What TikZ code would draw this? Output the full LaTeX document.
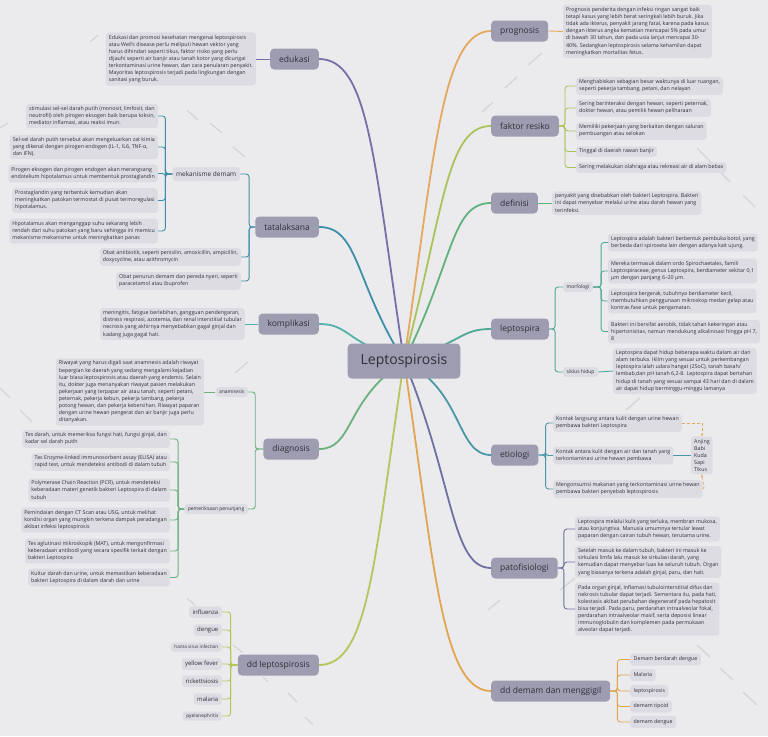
\documentclass[tikz,border=0pt]{standalone}
\usepackage{fontspec}
\setmainfont{Open Sans}
\usepackage{tikz}
\usetikzlibrary{positioning, backgrounds, arrows.meta}
\definecolor{bgfill}{HTML}{EBEBEE}
\definecolor{topicfill}{HTML}{9D9CB0}
\definecolor{notefill}{HTML}{DCDCE2}
\definecolor{ink}{HTML}{2F2F3A}
\definecolor{wmgray}{HTML}{D4D4D9}
\definecolor{cprog}{HTML}{E6A860}
\definecolor{crisk}{HTML}{ABC35C}
\definecolor{cdefn}{HTML}{62B27D}
\definecolor{cspira}{HTML}{4FA796}
\definecolor{cetio}{HTML}{4A98A6}
\definecolor{cpato}{HTML}{6D70A0}
\definecolor{cddfev}{HTML}{E3A552}
\definecolor{cedu}{HTML}{7A6DA8}
\definecolor{ctata}{HTML}{3F8EA9}
\definecolor{ckompl}{HTML}{52B1A8}
\definecolor{cdiag}{HTML}{6BB07D}
\definecolor{cddlep}{HTML}{B8C45C}
\tikzstyle{topic}=[fill=topicfill, text=ink, rounded corners=4pt, font=\fontsize{8.5}{10}\selectfont, inner xsep=9pt, minimum height=21pt]
\tikzstyle{note}=[fill=notefill, text=ink, rounded corners=3pt, align=left, font=\fontsize{5.3}{7.1}\selectfont, inner xsep=3pt, inner ysep=2.6pt]
\tikzstyle{tag}=[fill=notefill, text=ink, rounded corners=3pt, font=\fontsize{5}{6}\selectfont, inner xsep=3.5pt, inner ysep=1pt, minimum height=10pt]
\tikzstyle{item}=[tag, font=\fontsize{6}{7}\selectfont, minimum height=11.5pt]
\tikzstyle{trunk}=[line width=1.8pt, line cap=round]
\tikzstyle{twig}=[line width=0.9pt, rounded corners=3pt]
\tikzstyle{rel}=[densely dashed, line width=0.7pt, -{Stealth[length=3pt]}]
\tikzstyle{wm}=[line width=1.3pt, wmgray]
\tikzset{>=stealth}

\begin{document}
\begin{tikzpicture}[x=1pt, y=-1pt]
\useasboundingbox (0,0) rectangle (768,736);
% the central topic
\node[topic, font=\fontsize{14}{16}\selectfont, minimum height=35pt, inner xsep=13pt] (lep) at (404,361) {Leptospirosis};
% the right topics
\node[topic, anchor=west] (prog) at (491,31) {prognosis};
\node[topic, anchor=west] (risk) at (491,126) {faktor resiko};
\node[topic, anchor=west] (defn) at (491,203) {definisi};
\node[topic, anchor=west] (spira) at (491,329) {leptospira};
\node[topic, anchor=west] (etio) at (491,455) {etiologi};
\node[topic, anchor=west] (pato) at (491,568) {patofisiologi};
\node[topic, anchor=west] (ddfev) at (491,691) {dd demam dan menggigil};
% the left topics
\node[topic, anchor=east] (edu) at (319,59) {edukasi};
\node[topic, anchor=east] (tata) at (319,227) {tatalaksana};
\node[topic, anchor=east] (kompl) at (319,324) {komplikasi};
\node[topic, anchor=east] (diag) at (319,449) {diagnosis};
\node[topic, anchor=east] (ddlep) at (319,665) {dd leptospirosis};

% edukasi
\node[note, anchor=east] (edu1) at (256,59) {Edukasi dan promosi kesehatan mengenai leptospirosis\\atau Weil's disease perlu meliputi hewan vektor yang\\harus dihindari seperti tikus, faktor risiko yang perlu\\dijauhi seperti air banjir atau tanah kotor yang dicurigai\\terkontaminasi urine hewan, dan cara penularan penyakit.\\Mayoritas leptospirosis terjadi pada lingkungan dengan\\sanitasi yang buruk.};
% tatalaksana
\node[tag, anchor=east, font=\fontsize{6.5}{8}\selectfont, minimum height=14pt] (fever) at (240,174) {mekanisme demam};
\node[note, anchor=east] (tata2) at (241,257) {Obat antibiotik, seperti penisilin, amoxicillin, ampicillin,\\doxycycline, atau azithromycin};
\node[note, anchor=east] (tata3) at (241,281) {Obat penurun demam dan pereda nyeri, seperti\\paracetamol atau ibuprofen};
\node[note, anchor=east] (fever1) at (158,116) {stimulasi sel-sel darah putih (monosit, limfosit, dan\\neutrofil) oleh pirogen eksogen baik berupa toksin,\\mediator inflamasi, atau reaksi imun.};
\node[note, anchor=east] (fever2) at (158,147) {Sel-sel darah putih tersebut akan mengeluarkan zat kimia\\yang dikenal dengan pirogen endogen (IL-1, IL6, TNF-α,\\dan IFN).};
\node[note, anchor=east] (fever3) at (158,173.5) {Pirogen eksogen dan pirogen endogen akan merangsang\\endotelium hipotalamus untuk membentuk prostaglandin};
\node[note, anchor=east] (fever4) at (158,200.5) {Prostaglandin yang terbentuk kemudian akan\\meningkatkan patokan termostat di pusat termoregulasi\\hipotalamus.};
\node[note, anchor=east] (fever5) at (158,231) {Hipotalamus akan menganggap suhu sekarang lebih\\rendah dari suhu patokan yang baru sehingga ini memicu\\mekanisme mekanisme untuk meningkatkan panas};
% komplikasi
\node[note, anchor=east] (kompl1) at (245,324) {meningitis, fatigue berlebihan, gangguan pendengaran,\\distress respirasi, azotemia, dan renal interstitial tubular\\necrosis yang akhirnya menyebabkan gagal ginjal dan\\kadang juga gagal hati.};
% diagnosis
\node[tag, anchor=east] (anam) at (248,392) {anamnesis};
\node[tag, anchor=east] (penun) at (248,509) {pemeriksaan penunjang};
\node[note, anchor=east] (anam1) at (204,392) {Riwayat yang harus digali saat anamnesis adalah riwayat\\bepergian ke daerah yang sedang mengalami kejadian\\luar biasa leptospirosis atau daerah yang endemis. Selain\\itu, dokter juga menanyakan riwayat pasien melakukan\\pekerjaan yang terpapar air atau tanah, seperti petani,\\peternak, pekerja kebun, pekerja tambang, pekerja\\potong hewan, dan pekerja kebersihan. Riwayat paparan\\dengan urine hewan pengerat dan air banjir juga perlu\\ditanyakan.};
\node[note, anchor=east] (penun1) at (170,439) {Tes darah, untuk memeriksa fungsi hati, fungsi ginjal, dan\\kadar sel darah putih};
\node[note, anchor=east] (penun2) at (170,462) {Tes Enzyme-linked immunosorbent assay (ELISA) atau\\rapid test, untuk mendeteksi antibodi di dalam tubuh};
\node[note, anchor=east] (penun3) at (170,490) {Polymerase Chain Reaction (PCR), untuk mendeteksi\\keberadaan materi genetik bakteri Leptospira di dalam\\tubuh};
\node[note, anchor=east] (penun4) at (170,520) {Pemindaian dengan CT Scan atau USG, untuk melihat\\kondisi organ yang mungkin terkena dampak peradangan\\akibat infeksi leptospirosis};
\node[note, anchor=east] (penun5) at (170,551) {Tes aglutinasi mikroskopik (MAT), untuk mengonfirmasi\\keberadaan antibodi yang secara spesifik terkait dengan\\bakteri Leptospira};
\node[note, anchor=east] (penun6) at (170,577.5) {Kultur darah dan urine, untuk memastikan keberadaan\\bakteri Leptospira di dalam darah dan urine};
% dd leptospirosis
\node[item, anchor=east] (ddlep1) at (222,612) {influenza};
\node[item, anchor=east] (ddlep2) at (222,630) {dengue};
\node[item, anchor=east, font=\fontsize{4.6}{6}\selectfont, minimum height=9pt] (ddlep3) at (222,647) {hanta virus infection};
\node[item, anchor=east] (ddlep4) at (222,664) {yellow fever};
\node[item, anchor=east] (ddlep5) at (222,681) {rickettsiosis};
\node[item, anchor=east] (ddlep6) at (222,699) {malaria};
\node[item, anchor=east, font=\fontsize{4.8}{6}\selectfont, minimum height=9pt] (ddlep7) at (222,716) {pyelonephritis};

% prognosis
\node[note, anchor=west] (prog1) at (563,31.5) {Prognosis penderita dengan infeksi ringan sangat baik\\tetapi kasus yang lebih berat seringkali lebih buruk. Jika\\tidak ada ikterus, penyakit jarang fatal, karena pada kasus\\dengan ikterus angka kematian mencapai 5\% pada umur\\di bawah 30 tahun, dan pada usia lanjut mencapai 30-\\40\%. Sedangkan leptospirosis selama kehamilan dapat\\meningkatkan mortalitas fetus.};
% faktor resiko
\node[note, anchor=west] (risk1) at (576,86) {Menghabiskan sebagian besar waktunya di luar ruangan,\\seperti pekerja tambang, petani, dan nelayan};
\node[note, anchor=west] (risk2) at (576,108) {Sering berinteraksi dengan hewan, seperti peternak,\\dokter hewan, atau pemilik hewan peliharaan};
\node[note, anchor=west] (risk3) at (576,131) {Memiliki pekerjaan yang berkaitan dengan saluran\\pembuangan atau selokan};
\node[note, anchor=west] (risk4) at (576,151.5) {Tinggal di daerah rawan banjir};
\node[note, anchor=west] (risk5) at (576,167.5) {Sering melakukan olahraga atau rekreasi air di alam bebas};
% definisi
\node[note, anchor=west] (defn1) at (552,203) {penyakit yang disebabkan oleh bakteri Leptospira. Bakteri\\ini dapat menyebar melalui urine atau darah hewan yang\\terinfeksi.};
% leptospira
\node[tag, anchor=west] (morf) at (563,287) {morfologi};
\node[tag, anchor=west] (life) at (563,372) {siklus hidup};
\node[note, anchor=west] (morf1) at (608,242.5) {Leptospira adalah bakteri berbentuk pembuka botol, yang\\berbeda dari spiroseta lain dengan adanya kait ujung.};
\node[note, anchor=west] (morf2) at (608,271) {Mereka termasuk dalam ordo Spirochaetales, famili\\Leptospiraceae, genus Leptospira, berdiameter sekitar 0,1\\µm dengan panjang 6–20 µm.};
\node[note, anchor=west] (morf3) at (608,301) {Leptospira bergerak, tubuhnya berdiameter kecil,\\membutuhkan penggunaan mikroskop medan gelap atau\\kontras fase untuk pengamatan.};
\node[note, anchor=west] (morf4) at (608,331.5) {Bakteri ini bersifat aerobik, tidak tahan kekeringan atau\\hipertonisitas, namun mendukung alkalinisasi hingga pH 7,\\8};
\node[note, anchor=west] (life1) at (613,371) {Leptospira dapat hidup beberapa waktu dalam air dan\\alam terbuka. Iklim yang sesuai untuk perkembangan\\leptospira ialah udara hangat (25oC), tanah basah/\\lembab,dan pH tanah 6,2-8. Leptospira dapat bertahan\\hidup di tanah yang sesuai sampai 43 hari dan di dalam\\air dapat hidup berminggu-minggu lamanya};
% etiologi
\node[note, anchor=west] (etio1) at (553,423) {Kontak langsung antara kulit dengan urine hewan\\pembawa bakteri Leptospira};
\node[note, anchor=west] (etio2) at (553,455.5) {Kontak antara kulit dengan air dan tanah yang\\terkontaminasi urine hewan pembawa};
\node[note, anchor=west] (etio3) at (553,489) {Mengonsumsi makanan yang terkontaminasi urine hewan\\pembawa bakteri penyebab leptospirosis};
\node[note, anchor=west] (animals) at (691,455.5) {Anjing\\Babi\\Kuda\\Sapi\\Tikus};
% patofisiologi
\node[note, anchor=west] (pato1) at (575,529) {Leptospira melalui kulit yang terluka, membran mukosa,\\atau konjungtiva. Manusia umumnya tertular lewat\\paparan dengan cairan tubuh hewan, terutama urine.};
\node[note, anchor=west] (pato2) at (575,562) {Setelah masuk ke dalam tubuh, bakteri ini masuk ke\\sirkulasi limfa lalu masuk ke sirkulasi darah, yang\\kemudian dapat menyebar luas ke seluruh tubuh. Organ\\yang biasanya terkena adalah ginjal, paru, dan hati.};
\node[note, anchor=west] (pato3) at (575,609) {Pada organ ginjal, inflamasi tubulointerstitial difus dan\\nekrosis tubular dapat terjadi. Sementara itu, pada hati,\\kolestasis akibat perubahan degeneratif pada hepatosit\\bisa terjadi. Pada paru, perdarahan intraalveolar fokal,\\perdarahan intraalveolar masif, serta deposisi linear\\immunoglobulin dan komplemen pada permukaan\\alveolar dapat terjadi.};
% dd demam dan menggigil
\node[tag, anchor=west, font=\fontsize{5.3}{6.5}\selectfont, minimum height=12pt] (ddfev1) at (630,659.5) {Demam berdarah dengue};
\node[tag, anchor=west, font=\fontsize{5.3}{6.5}\selectfont, minimum height=12pt] (ddfev2) at (630,675) {Malaria};
\node[tag, anchor=west, font=\fontsize{5.3}{6.5}\selectfont, minimum height=12pt] (ddfev3) at (630,691) {leptospirosis};
\node[tag, anchor=west, font=\fontsize{5.3}{6.5}\selectfont, minimum height=12pt] (ddfev4) at (630,706.5) {demam tipoid};
\node[tag, anchor=west, font=\fontsize{5.3}{6.5}\selectfont, minimum height=12pt] (ddfev5) at (630,722) {demam dengue};

% the twigs
\draw[twig, cedu] (edu.west) -- (edu1.east);
\foreach \n in {fever, tata2, tata3} \draw[twig, ctata] (tata.west) -- ++(-6,0) |- (\n.east);
\foreach \i in {1,...,5} \draw[twig, ctata] (fever.west) -- ++(-7,0) |- (fever\i.east);
\draw[twig, ckompl] (kompl.west) -- (kompl1.east);
\foreach \n in {anam, penun} \draw[twig, cdiag] (diag.west) -- ++(-8,0) |- (\n.east);
\draw[twig, cdiag] (anam.west) -- (anam1.east);
\foreach \i in {1,...,6} \draw[twig, cdiag] (penun.west) -- ++(-6,0) |- (penun\i.east);
\foreach \i in {1,...,7} \draw[twig, cddlep] (ddlep.west) -- ++(-7,0) |- (ddlep\i.east);
\draw[twig, cprog] (prog.east) -- (prog1.west);
\foreach \i in {1,...,5} \draw[twig, crisk] (risk.east) -- ++(6,0) |- (risk\i.west);
\draw[twig, cdefn] (defn.east) -- (defn1.west);
\foreach \n in {morf, life} \draw[twig, cspira] (spira.east) -- ++(6,0) |- (\n.west);
\foreach \i in {1,...,4} \draw[twig, cspira] (morf.east) -- ++(8,0) |- (morf\i.west);
\draw[twig, cspira] (life.east) -- (life1.west);
\foreach \i in {1,...,3} \draw[twig, cetio] (etio.east) -- ++(7,0) |- (etio\i.west);
\draw[twig, cetio] (etio2.east) -- (animals.west);
\draw[rel, cprog!80!crisk] (etio1.east) -| (animals.north);
\draw[rel, cprog!80!crisk] (etio3.east) .. controls +(3,0) and +(0,5) .. (animals.south);
\foreach \i in {1,...,3} \draw[twig, cpato] (pato.east) -- ++(6,0) |- (pato\i.west);
\foreach \i in {1,...,5} \draw[twig, cddfev] (ddfev.east) -- ++(7,0) |- (ddfev\i.west);

\begin{scope}[on background layer]
\fill[bgfill] (0,0) rectangle (768,736);
% faint watermark strokes
\foreach \a/\b/\c/\d in {90/42/98/35, 187/110/198/120, 210/123/222/133, 233/147/245/157, 0/128/8/123, 235/373/248/362, 0/388/10/398, 20/410/32/422, 528/65/542/53, 505/88/517/77, 482/112/493/102, 697/148/730/182, 743/195/755/207, 697/645/710/657, 720/668/733/680, 743/692/757/705, 187/598/195/605, 233/645/242/652, 263/677/268/682, 288/693/297/702, 305/717/313/725, 626/410/640/398, 560/590/575/578, 488/610/500/600}
  \draw[wm] (\a,\b) -- (\c,\d);
% the trunks
\draw[trunk, cprog] (lep.center) .. controls +(30,-200) and +(-50,0) .. (prog.west);
\draw[trunk, crisk] (lep.center) .. controls +(40,-150) and +(-45,0) .. (risk.west);
\draw[trunk, cdefn] (lep.center) .. controls +(50,-100) and +(-40,0) .. (defn.west);
\draw[trunk, cspira] (lep.center) .. controls +(60,-20) and +(-30,0) .. (spira.west);
\draw[trunk, cetio] (lep.center) .. controls +(60,30) and +(-35,0) .. (etio.west);
\draw[trunk, cpato] (lep.center) .. controls +(50,120) and +(-40,0) .. (pato.west);
\draw[trunk, cddfev] (lep.center) .. controls +(30,200) and +(-50,0) .. (ddfev.west);
\draw[trunk, cedu] (lep.center) .. controls +(-30,-200) and +(50,0) .. (edu.east);
\draw[trunk, ctata] (lep.center) .. controls +(-50,-80) and +(40,0) .. (tata.east);
\draw[trunk, ckompl] (lep.center) .. controls +(-60,-20) and +(30,0) .. (kompl.east);
\draw[trunk, cdiag] (lep.center) .. controls +(-60,40) and +(35,0) .. (diag.east);
\draw[trunk, cddlep] (lep.center) .. controls +(-30,200) and +(50,0) .. (ddlep.east);
\end{scope}
\end{tikzpicture}
\end{document}
